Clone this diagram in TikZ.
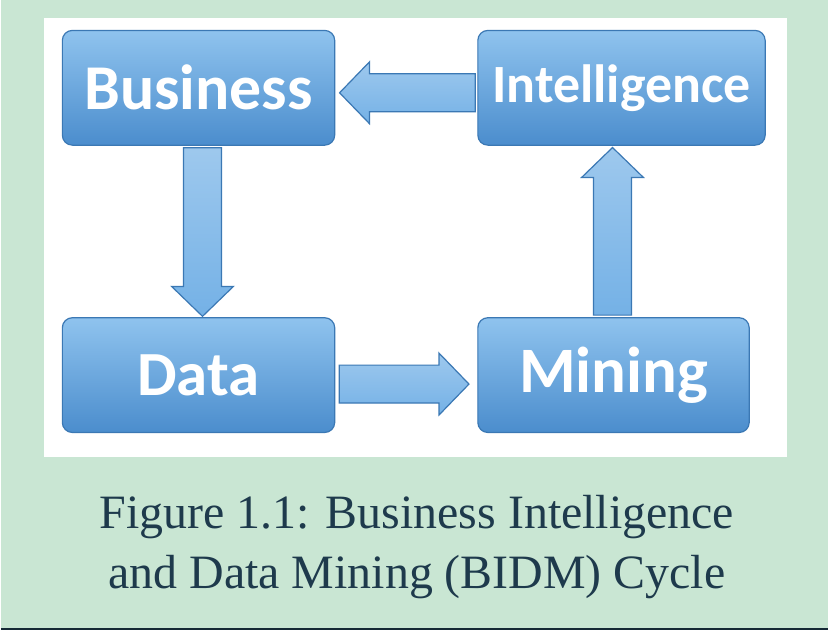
\documentclass[tikz,border=0pt]{standalone}
\usepackage{fontspec}
\setmainfont{Liberation Serif}
\newfontfamily\boxfont{Carlito}
\usetikzlibrary{calc}
\definecolor{bggreen}{HTML}{C9E6D3}
\definecolor{boxtop}{HTML}{8FC3EE}
\definecolor{boxbot}{HTML}{4B8DCD}
\definecolor{boxline}{HTML}{3B78B4}
\definecolor{arrfill}{HTML}{74B1E6}
\definecolor{captcol}{HTML}{1E3A4C}
\tikzset{
  stagebox/.style={draw=boxline, line width=1.2pt, rounded corners=10pt, top color=boxtop, bottom color=boxbot, text=white, font=\boxfont\bfseries, inner sep=0pt},
  barrow/.style={draw=boxline, line width=1.2pt, top color=arrfill!70!white, bottom color=arrfill},
  capt/.style={text=captcol, font=\fontsize{48}{54}\selectfont}
}
\newcommand\blkarrow[3]{%
  \draw[barrow, shift={#1}, rotate=#2] (0,-19)--(#3-30,-19)--(#3-30,-31)--(#3,0)--(#3-30,31)--(#3-30,19)--(0,19)--cycle;}
\begin{document}
\begin{tikzpicture}[x=1pt,y=-1pt]
\fill[bggreen] (0,0) rectangle (829,632);
\fill[white] (43,18) rectangle (788,458);
\draw[captcol!70!black, line width=2pt] (0,631) -- (829,631);
\node[stagebox, minimum width=273pt, minimum height=115pt, font=\boxfont\bfseries\fontsize{64}{68}\selectfont] (bus) at (198,88) {Business};
\node[stagebox, minimum width=288pt, minimum height=115pt, font=\boxfont\bfseries\fontsize{54}{58}\selectfont] (int) at (622,88) {Intelligence};
\node[stagebox, minimum width=273pt, minimum height=115pt, font=\boxfont\bfseries\fontsize{63}{66}\selectfont] (dat) at (198,376) {Data};
\node[stagebox, minimum width=272pt, minimum height=115pt, font=\boxfont\bfseries\fontsize{65}{68}\selectfont] (min) at (614,376) {Mining};
\blkarrow{($(bus.south)+(4,2)$)}{-90}{169}
\blkarrow{($(int.west)+(-2,5)$)}{180}{136}
\blkarrow{($(dat.east)+(4,9)$)}{0}{130}
\blkarrow{($(min.north)+(-1,-2)$)}{90}{168}
\node[capt] (c1) at (417,518) {Figure 1.1: Business Intelligence};
\node[capt] (c2) at (417,578) {and Data Mining (BIDM) Cycle};
\end{tikzpicture}
\end{document}
